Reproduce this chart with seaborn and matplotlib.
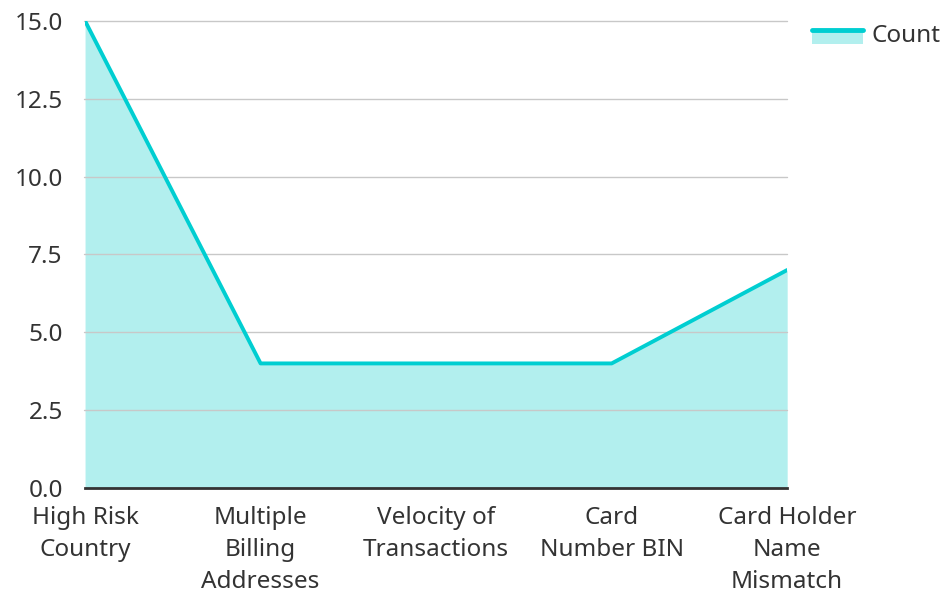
import matplotlib
matplotlib.use("Agg")
import matplotlib.pyplot as plt
import seaborn as sns
import pandas as pd
import numpy as np
from matplotlib.patches import Patch, Rectangle
from matplotlib.lines import Line2D
from matplotlib.legend_handler import HandlerBase

categories = ["High Risk\nCountry", "Multiple\nBilling\nAddresses", "Velocity of\nTransactions",
              "Card\nNumber BIN", "Card Holder\nName\nMismatch"]
counts = [15, 4, 4, 4, 7]
yticks = [0.0, 2.5, 5.0, 7.5, 10.0, 12.5, 15.0]

sns.set_theme(style="white")
plt.rcParams['font.family'] = ['Noto Sans', 'DejaVu Sans']

line_color = "#00CED1"
fill_color = "#B2EFEE"
FS = 17.5

df = pd.DataFrame({"pos": np.arange(len(categories)), "Count": counts})

fig = plt.figure(figsize=(9.45, 5.92), dpi=100)
ax = fig.add_axes([0.09, 0.1757, 0.743, 0.789])

ax.fill_between(df["pos"], 0, df["Count"], color=fill_color, linewidth=0, zorder=1)
sns.lineplot(data=df, x="pos", y="Count", ax=ax, color=line_color, linewidth=2.8, zorder=3)

ax.set_xlim(0, len(categories) - 1)
ax.set_ylim(0, 15)
ax.set_yticks(yticks)
ax.set_yticklabels([f"{v:.1f}" for v in yticks])
ax.set_xticks(df["pos"])
ax.set_xticklabels(categories, linespacing=1.43)
ax.set_xlabel("")
ax.set_ylabel("")
for y in yticks[1:]:
    ax.axhline(y, xmin=-0.002, color="#C8C8C8", linewidth=1, zorder=2, clip_on=False)
for s in ["top", "right", "left"]:
    ax.spines[s].set_visible(False)
ax.spines["bottom"].set_color("#333333")
ax.spines["bottom"].set_linewidth(2)
ax.spines["bottom"].set_zorder(4)
ax.tick_params(axis="both", labelsize=FS, colors="#333333", length=0)
ax.tick_params(axis="y", pad=16)
ax.tick_params(axis="x", pad=13)


class AreaHandler(HandlerBase):
    def create_artists(self, legend, orig, xd, yd, w, h, fs, trans):
        r = Rectangle((xd, yd - 0.2 * h), w, h * 0.7, facecolor=fill_color, edgecolor="none", transform=trans)
        l = Line2D([xd, xd + w], [yd + 0.5 * h, yd + 0.5 * h], color=line_color, linewidth=3.5, transform=trans)
        return [r, l]


handle = Patch(label="Count")
ax.legend(handles=[handle], labels=["Count"], handler_map={Patch: AreaHandler()},
          loc="upper left", bbox_to_anchor=(1.021, 1.016), frameon=False,
          fontsize=FS, handlelength=2.1, handleheight=0.9, handletextpad=0.35,
          labelcolor="#333333", borderaxespad=0)

fig.savefig("out.png", dpi=100)
